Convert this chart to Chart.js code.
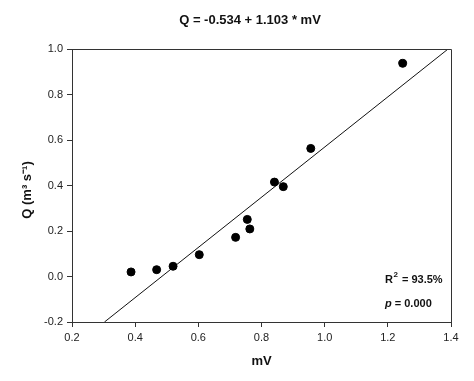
<!DOCTYPE html>
<html>
<head>
<meta charset="utf-8">
<script src="https://cdn.jsdelivr.net/npm/chart.js@4"></script>
<style>
html,body{margin:0;padding:0;background:#fff;}
#c{display:block;}
</style>
</head>
<body>
<canvas id="c" width="474" height="381"></canvas>
<script>
// Data
const mV = [0.387, 0.468, 0.520, 0.603, 0.718, 0.755, 0.763, 0.841, 0.869, 0.956, 1.247];
const Q  = [0.020, 0.030, 0.045, 0.096, 0.172, 0.251, 0.209, 0.415, 0.395, 0.563, 0.937];
const intercept = -0.534;
const slope = 1.103;
const xRange = [0.2, 1.4];
const yRange = [-0.2, 1.0];
const tickStep = 0.2;
const titleText = "Q = -0.534 + 1.103 * mV";
const xTitle = "mV";
const yTitle = "Q (m³ s⁻¹)";
const r2Text = "93.5%";
const pText = "0.000";

const points = mV.map((x, i) => ({x: x, y: Q[i]}));
const xa = (yRange[0] - intercept) / slope;
const xb = (yRange[1] - intercept) / slope;
const fitLine = [{x: xa, y: intercept + slope * xa}, {x: xb, y: intercept + slope * xb}];

const FONT = "'Liberation Sans', Arial, sans-serif";
const AXIS = '#333';
const fmt = v => (Math.abs(v) < 1e-9 ? 0 : Number(v)).toFixed(1);

const decor = {
  id: 'decor',
  afterDraw(chart) {
    const ctx = chart.ctx, a = chart.chartArea;
    ctx.save();
    ctx.strokeStyle = AXIS;
    ctx.lineWidth = 1;
    ctx.beginPath();
    ctx.moveTo(a.left, a.top + 0.5);
    ctx.lineTo(a.right + 0.5, a.top + 0.5);
    ctx.lineTo(a.right + 0.5, a.bottom);
    ctx.stroke();
    ctx.fillStyle = '#111';
    ctx.textBaseline = 'middle';
    // Title
    ctx.font = 'bold 13px ' + FONT;
    ctx.textAlign = 'center';
    ctx.fillText(titleText, 250, 20);
    // x title
    ctx.fillText(xTitle, (a.left + a.right) / 2, 361);
    // y title
    ctx.save();
    ctx.translate(27, 190);
    ctx.rotate(-Math.PI / 2);
    ctx.fillText(yTitle, 0, 0);
    ctx.restore();
    // annotations
    ctx.textAlign = 'left';
    ctx.font = 'bold 11px ' + FONT;
    let x = 385;
    ctx.fillText('R', x, 280);
    x += ctx.measureText('R').width;
    ctx.font = 'bold 8px ' + FONT;
    ctx.fillText('2', x + 0.5, 275);
    x += ctx.measureText('2').width + 1.5;
    ctx.font = 'bold 11px ' + FONT;
    ctx.fillText(' = ' + r2Text, x, 280);
    ctx.font = 'italic bold 11px ' + FONT;
    ctx.fillText('p', 385, 304);
    let w = ctx.measureText('p').width;
    ctx.font = 'bold 11px ' + FONT;
    ctx.fillText(' = ' + pText, 385 + w, 304);
    ctx.restore();
  }
};

new Chart(document.getElementById('c'), {
  type: 'scatter',
  data: {
    datasets: [
      {
        type: 'line',
        data: fitLine,
        borderColor: '#111',
        borderWidth: 1,
        pointRadius: 0,
        fill: false,
        order: 2
      },
      {
        data: points,
        backgroundColor: '#000',
        borderColor: '#000',
        pointRadius: 4,
        pointHoverRadius: 4,
        order: 1
      }
    ]
  },
  options: {
    responsive: false,
    animation: false,
    devicePixelRatio: 1,
    layout: {padding: {top: 49, right: 23, left: 0, bottom: 0}},
    plugins: {legend: {display: false}, tooltip: {enabled: false}, title: {display: false}},
    scales: {
      x: {
        type: 'linear',
        min: xRange[0], max: xRange[1],
        afterFit(s) { s.height = 59; },
        border: {display: true, color: AXIS, width: 1},
        grid: {display: true, drawOnChartArea: false, drawTicks: true, tickLength: 5, color: AXIS},
        ticks: {stepSize: tickStep, padding: 4, color: '#222', font: {family: FONT, size: 11},
                callback: fmt}
      },
      y: {
        type: 'linear',
        min: yRange[0], max: yRange[1],
        afterFit(s) { s.width = 72; },
        border: {display: true, color: AXIS, width: 1},
        grid: {display: true, drawOnChartArea: false, drawTicks: true, tickLength: 5, color: AXIS},
        ticks: {stepSize: tickStep, padding: 4, color: '#222', font: {family: FONT, size: 11},
                callback: fmt}
      }
    }
  },
  plugins: [decor]
});
</script>
</body>
</html>
